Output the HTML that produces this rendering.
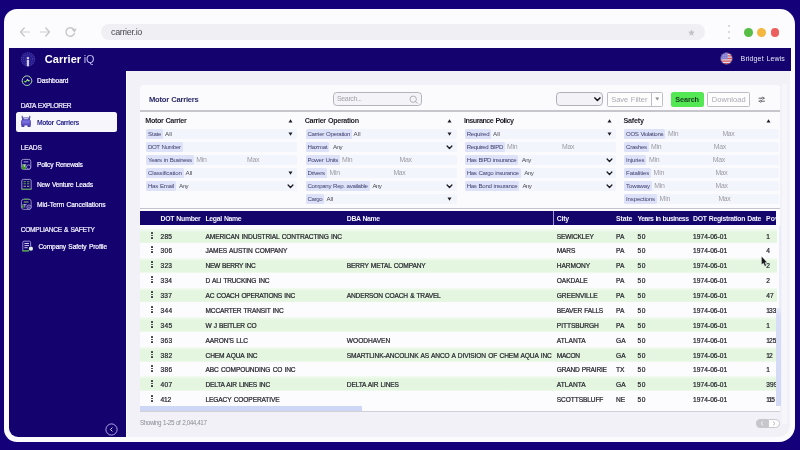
<!DOCTYPE html><html><head><meta charset="utf-8"><title>Carrier iQ</title><style>
html,body{margin:0;padding:0}
body{width:800px;height:450px;overflow:hidden;background:#14017a;position:relative;font-family:"Liberation Sans",sans-serif}
#r{position:absolute;left:0;top:0;width:800px;height:450px;overflow:hidden;will-change:transform}
#r div,#r svg,#r span{position:absolute;display:block}
#r span{white-space:nowrap;line-height:12px;height:12px;word-spacing:0.6px}
#r span.k{overflow:hidden}
#r span.b{-webkit-text-stroke:0.22px currentColor}
#r span i{font-style:normal;letter-spacing:-0.9px}
</style></head><body><div id="r">
<div style="left:4.2px;top:9px;width:791.2px;height:432.7px;background:#fcfcfe;border-radius:13px 15px 16px 13px;"></div>
<div style="left:100.5px;top:23.6px;width:604.5px;height:16.3px;background:#f0f0f4;border-radius:8px;"></div>
<div style="left:8.9px;top:47.5px;width:781.8px;height:23px;background:#14036e;"></div>
<div style="left:8.9px;top:47.5px;width:117.1px;height:389.3px;background:#14036e;border-radius:0 0 0 9px;"></div>
<div style="left:126px;top:70.5px;width:664.4px;height:366.3px;background:#f1f1f7;border-radius:0 0 12px 0;"></div>
<div style="left:781.8px;top:84px;width:5px;height:340px;background:#f6f6fb;"></div>
<div style="left:126px;top:70.5px;width:1.2px;height:366.3px;background:#fbfbfe;"></div>
<div style="left:140px;top:85px;width:640px;height:26px;background:#fbfbfe;border-radius:3px 3px 0 0;"></div>
<div style="left:140px;top:110.4px;width:640px;height:1.3px;background:#c6c6cc;"></div>
<div style="left:140px;top:111.5px;width:640px;height:96.5px;background:#fbfbfe;"></div>
<div style="left:140px;top:207.9px;width:640px;height:1.4px;background:#c4c4ca;"></div>
<div style="left:140px;top:209px;width:640px;height:202px;background:#fcfcfe;"></div>
<div style="left:140px;top:211px;width:636px;height:14px;background:#13056b;"></div>
<div style="left:553.4px;top:211px;width:1.1px;height:14px;background:#9d9ad4;"></div>
<div style="left:140px;top:411px;width:640px;height:1px;background:#d0d0d6;"></div>
<div style="left:744.4px;top:28.1px;width:8.8px;height:8.8px;background:#57bd45;border-radius:50%;"></div>
<div style="left:757.4px;top:28.1px;width:8.8px;height:8.8px;background:#f4b740;border-radius:50%;"></div>
<div style="left:770.5px;top:28.1px;width:8.8px;height:8.8px;background:#ec5f5c;border-radius:50%;"></div>
<div style="left:727.5px;top:25px;width:2px;height:2px;background:#cfcfd4;border-radius:50%;"></div>
<div style="left:727.5px;top:31px;width:2px;height:2px;background:#cfcfd4;border-radius:50%;"></div>
<div style="left:727.5px;top:36.5px;width:2px;height:2px;background:#cfcfd4;border-radius:50%;"></div>
<div style="left:16.2px;top:111.8px;width:100.8px;height:20.6px;background:#f6f6fc;border-radius:2.5px;"></div>
<div style="left:332.5px;top:92.2px;width:89.4px;height:13.8px;background:#f4f4f8;border:1.1px solid #b4b4bc;border-radius:3.8px;box-sizing:border-box;"></div>
<div style="left:556.1px;top:92px;width:46.8px;height:14.4px;background:#f3f3f7;border:1.2px solid #b0b0b8;border-radius:3.8px;box-sizing:border-box;"></div>
<div style="left:607.1px;top:92.1px;width:55.7px;height:14.5px;background:#fdfdfe;border:1px solid #bdbdc3;border-radius:1.5px;box-sizing:border-box;"></div>
<div style="left:651px;top:92px;width:1px;height:14.5px;background:#bdbdc3;"></div>
<div style="left:670.8px;top:92px;width:32.9px;height:14.9px;background:#53e753;border-radius:2.5px;"></div>
<div style="left:707px;top:92px;width:43px;height:14.5px;background:#fdfdfe;border:1px solid #bdbdc3;border-radius:1.5px;box-sizing:border-box;"></div>
<div style="left:146.3px;top:129.2px;width:150.7px;height:9.6px;background:#f3f5fc;border-radius:1.5px;"></div>
<div style="left:146.3px;top:129px;width:16.899999999999977px;height:10px;background:#dde2f8;border-radius:1.5px;"></div>
<div style="left:146.3px;top:142.2px;width:150.7px;height:9.6px;background:#f3f5fc;border-radius:1.5px;"></div>
<div style="left:146.3px;top:142px;width:36.29999999999998px;height:10px;background:#dde2f8;border-radius:1.5px;"></div>
<div style="left:146.3px;top:155.2px;width:150.7px;height:9.6px;background:#f3f5fc;border-radius:1.5px;"></div>
<div style="left:146.3px;top:155px;width:47.29999999999998px;height:10px;background:#dde2f8;border-radius:1.5px;"></div>
<div style="left:146.3px;top:168.2px;width:150.7px;height:9.6px;background:#f3f5fc;border-radius:1.5px;"></div>
<div style="left:146.3px;top:168px;width:37.29999999999998px;height:10px;background:#dde2f8;border-radius:1.5px;"></div>
<div style="left:146.3px;top:181.2px;width:150.7px;height:9.6px;background:#f3f5fc;border-radius:1.5px;"></div>
<div style="left:146.3px;top:181px;width:29.299999999999983px;height:10px;background:#dde2f8;border-radius:1.5px;"></div>
<div style="left:305.7px;top:129.2px;width:151.3px;height:9.6px;background:#f3f5fc;border-radius:1.5px;"></div>
<div style="left:305.7px;top:129px;width:46.30000000000001px;height:10px;background:#dde2f8;border-radius:1.5px;"></div>
<div style="left:305.7px;top:142.2px;width:151.3px;height:9.6px;background:#f3f5fc;border-radius:1.5px;"></div>
<div style="left:305.7px;top:142px;width:23.69999999999999px;height:10px;background:#dde2f8;border-radius:1.5px;"></div>
<div style="left:305.7px;top:155.2px;width:151.3px;height:9.6px;background:#f3f5fc;border-radius:1.5px;"></div>
<div style="left:305.7px;top:155px;width:34.30000000000001px;height:10px;background:#dde2f8;border-radius:1.5px;"></div>
<div style="left:305.7px;top:168.2px;width:151.3px;height:9.6px;background:#f3f5fc;border-radius:1.5px;"></div>
<div style="left:305.7px;top:168px;width:20.900000000000034px;height:10px;background:#dde2f8;border-radius:1.5px;"></div>
<div style="left:305.7px;top:181.2px;width:151.3px;height:9.6px;background:#f3f5fc;border-radius:1.5px;"></div>
<div style="left:305.7px;top:181px;width:63.900000000000034px;height:10px;background:#dde2f8;border-radius:1.5px;"></div>
<div style="left:305.7px;top:194.2px;width:151.3px;height:9.6px;background:#f3f5fc;border-radius:1.5px;"></div>
<div style="left:305.7px;top:194px;width:18.5px;height:10px;background:#dde2f8;border-radius:1.5px;"></div>
<div style="left:465.0px;top:129.2px;width:151.0px;height:9.6px;background:#f3f5fc;border-radius:1.5px;"></div>
<div style="left:465.0px;top:129px;width:26.30000000000001px;height:10px;background:#dde2f8;border-radius:1.5px;"></div>
<div style="left:465.0px;top:142.2px;width:151.0px;height:9.6px;background:#f3f5fc;border-radius:1.5px;"></div>
<div style="left:465.0px;top:142px;width:39.80000000000001px;height:10px;background:#dde2f8;border-radius:1.5px;"></div>
<div style="left:465.0px;top:155.2px;width:151.0px;height:9.6px;background:#f3f5fc;border-radius:1.5px;"></div>
<div style="left:465.0px;top:155px;width:53.200000000000045px;height:10px;background:#dde2f8;border-radius:1.5px;"></div>
<div style="left:465.0px;top:168.2px;width:151.0px;height:9.6px;background:#f3f5fc;border-radius:1.5px;"></div>
<div style="left:465.0px;top:168px;width:55.60000000000002px;height:10px;background:#dde2f8;border-radius:1.5px;"></div>
<div style="left:465.0px;top:181.2px;width:151.0px;height:9.6px;background:#f3f5fc;border-radius:1.5px;"></div>
<div style="left:465.0px;top:181px;width:54.200000000000045px;height:10px;background:#dde2f8;border-radius:1.5px;"></div>
<div style="left:624.4px;top:129.2px;width:154.60000000000002px;height:9.6px;background:#f3f5fc;border-radius:1.5px;"></div>
<div style="left:624.4px;top:129px;width:40.60000000000002px;height:10px;background:#dde2f8;border-radius:1.5px;"></div>
<div style="left:624.4px;top:142.2px;width:154.60000000000002px;height:9.6px;background:#f3f5fc;border-radius:1.5px;"></div>
<div style="left:624.4px;top:142px;width:24.399999999999977px;height:10px;background:#dde2f8;border-radius:1.5px;"></div>
<div style="left:624.4px;top:155.2px;width:154.60000000000002px;height:9.6px;background:#f3f5fc;border-radius:1.5px;"></div>
<div style="left:624.4px;top:155px;width:21.800000000000068px;height:10px;background:#dde2f8;border-radius:1.5px;"></div>
<div style="left:624.4px;top:168.2px;width:154.60000000000002px;height:9.6px;background:#f3f5fc;border-radius:1.5px;"></div>
<div style="left:624.4px;top:168px;width:26.600000000000023px;height:10px;background:#dde2f8;border-radius:1.5px;"></div>
<div style="left:624.4px;top:181.2px;width:154.60000000000002px;height:9.6px;background:#f3f5fc;border-radius:1.5px;"></div>
<div style="left:624.4px;top:181px;width:27.399999999999977px;height:10px;background:#dde2f8;border-radius:1.5px;"></div>
<div style="left:624.4px;top:194.2px;width:154.60000000000002px;height:9.6px;background:#f3f5fc;border-radius:1.5px;"></div>
<div style="left:624.4px;top:194px;width:32.39999999999998px;height:10px;background:#dde2f8;border-radius:1.5px;"></div>
<div style="left:140px;top:228.7px;width:637px;height:14.7px;background:linear-gradient(to bottom,#f5fbf4 0,#e4f6e0 3px,#e4f6e0 13.3px,#f1f9ef 100%);"></div>
<div style="left:151.3px;top:232.35px;width:1.8px;height:1.7px;background:#3c3c46;border-radius:30%;"></div>
<div style="left:151.3px;top:234.75px;width:1.8px;height:1.7px;background:#3c3c46;border-radius:30%;"></div>
<div style="left:151.3px;top:237.15px;width:1.8px;height:1.7px;background:#3c3c46;border-radius:30%;"></div>
<div style="left:151.3px;top:246.35px;width:1.8px;height:1.7px;background:#3c3c46;border-radius:30%;"></div>
<div style="left:151.3px;top:248.75px;width:1.8px;height:1.7px;background:#3c3c46;border-radius:30%;"></div>
<div style="left:151.3px;top:251.15px;width:1.8px;height:1.7px;background:#3c3c46;border-radius:30%;"></div>
<div style="left:140px;top:258.24px;width:637px;height:14.7px;background:linear-gradient(to bottom,#f5fbf4 0,#e4f6e0 3px,#e4f6e0 13.3px,#f1f9ef 100%);"></div>
<div style="left:151.3px;top:261.35px;width:1.8px;height:1.7px;background:#3c3c46;border-radius:30%;"></div>
<div style="left:151.3px;top:263.75px;width:1.8px;height:1.7px;background:#3c3c46;border-radius:30%;"></div>
<div style="left:151.3px;top:266.15px;width:1.8px;height:1.7px;background:#3c3c46;border-radius:30%;"></div>
<div style="left:151.3px;top:276.35px;width:1.8px;height:1.7px;background:#3c3c46;border-radius:30%;"></div>
<div style="left:151.3px;top:278.75px;width:1.8px;height:1.7px;background:#3c3c46;border-radius:30%;"></div>
<div style="left:151.3px;top:281.15px;width:1.8px;height:1.7px;background:#3c3c46;border-radius:30%;"></div>
<div style="left:140px;top:287.78px;width:637px;height:14.7px;background:linear-gradient(to bottom,#f5fbf4 0,#e4f6e0 3px,#e4f6e0 13.3px,#f1f9ef 100%);"></div>
<div style="left:151.3px;top:291.35px;width:1.8px;height:1.7px;background:#3c3c46;border-radius:30%;"></div>
<div style="left:151.3px;top:293.75px;width:1.8px;height:1.7px;background:#3c3c46;border-radius:30%;"></div>
<div style="left:151.3px;top:296.15px;width:1.8px;height:1.7px;background:#3c3c46;border-radius:30%;"></div>
<div style="left:151.3px;top:306.35px;width:1.8px;height:1.7px;background:#3c3c46;border-radius:30%;"></div>
<div style="left:151.3px;top:308.75px;width:1.8px;height:1.7px;background:#3c3c46;border-radius:30%;"></div>
<div style="left:151.3px;top:311.15px;width:1.8px;height:1.7px;background:#3c3c46;border-radius:30%;"></div>
<div style="left:140px;top:317.32px;width:637px;height:14.7px;background:linear-gradient(to bottom,#f5fbf4 0,#e4f6e0 3px,#e4f6e0 13.3px,#f1f9ef 100%);"></div>
<div style="left:151.3px;top:321.35px;width:1.8px;height:1.7px;background:#3c3c46;border-radius:30%;"></div>
<div style="left:151.3px;top:323.75px;width:1.8px;height:1.7px;background:#3c3c46;border-radius:30%;"></div>
<div style="left:151.3px;top:326.15px;width:1.8px;height:1.7px;background:#3c3c46;border-radius:30%;"></div>
<div style="left:151.3px;top:336.35px;width:1.8px;height:1.7px;background:#3c3c46;border-radius:30%;"></div>
<div style="left:151.3px;top:338.75px;width:1.8px;height:1.7px;background:#3c3c46;border-radius:30%;"></div>
<div style="left:151.3px;top:341.15px;width:1.8px;height:1.7px;background:#3c3c46;border-radius:30%;"></div>
<div style="left:140px;top:346.86px;width:637px;height:14.7px;background:linear-gradient(to bottom,#f5fbf4 0,#e4f6e0 3px,#e4f6e0 13.3px,#f1f9ef 100%);"></div>
<div style="left:151.3px;top:351.35px;width:1.8px;height:1.7px;background:#3c3c46;border-radius:30%;"></div>
<div style="left:151.3px;top:353.75px;width:1.8px;height:1.7px;background:#3c3c46;border-radius:30%;"></div>
<div style="left:151.3px;top:356.15px;width:1.8px;height:1.7px;background:#3c3c46;border-radius:30%;"></div>
<div style="left:151.3px;top:365.35px;width:1.8px;height:1.7px;background:#3c3c46;border-radius:30%;"></div>
<div style="left:151.3px;top:367.75px;width:1.8px;height:1.7px;background:#3c3c46;border-radius:30%;"></div>
<div style="left:151.3px;top:370.15px;width:1.8px;height:1.7px;background:#3c3c46;border-radius:30%;"></div>
<div style="left:140px;top:376.4px;width:637px;height:14.7px;background:linear-gradient(to bottom,#f5fbf4 0,#e4f6e0 3px,#e4f6e0 13.3px,#f1f9ef 100%);"></div>
<div style="left:151.3px;top:380.35px;width:1.8px;height:1.7px;background:#3c3c46;border-radius:30%;"></div>
<div style="left:151.3px;top:382.75px;width:1.8px;height:1.7px;background:#3c3c46;border-radius:30%;"></div>
<div style="left:151.3px;top:385.15px;width:1.8px;height:1.7px;background:#3c3c46;border-radius:30%;"></div>
<div style="left:151.3px;top:395.35px;width:1.8px;height:1.7px;background:#3c3c46;border-radius:30%;"></div>
<div style="left:151.3px;top:397.75px;width:1.8px;height:1.7px;background:#3c3c46;border-radius:30%;"></div>
<div style="left:151.3px;top:400.15px;width:1.8px;height:1.7px;background:#3c3c46;border-radius:30%;"></div>
<div style="left:779px;top:226px;width:2.4px;height:88px;background:#e9ecf9;"></div>
<div style="left:776.3px;top:308px;width:5px;height:98px;background:linear-gradient(to bottom,#e8ebf9 0,#d8def7 8px,#d2d9f6 100%);"></div>
<div style="left:140px;top:406.3px;width:222px;height:4.7px;background:#cfd7f6;"></div>
<div style="left:756.3px;top:419.3px;width:11.7px;height:8.4px;background:#c6c6cb;border-radius:4.2px 0 0 4.2px;"></div>
<div style="left:768px;top:419.3px;width:11.5px;height:8.4px;background:#fdfdfe;border-radius:0 4.2px 4.2px 0;border:0.6px solid #c9c9ce;box-sizing:border-box;"></div>
<svg style="left:287.8px;top:118.5px" width="5" height="4" viewBox="0 0 5 4"><path d="M2.5 0.3 L4.5 3.6 H0.5 Z" fill="#1c1c24"/></svg>
<svg style="left:287.8px;top:132.3px" width="5" height="4" viewBox="0 0 5 4"><path d="M0.5 0.4 H4.5 L2.5 3.7 Z" fill="#1c1c24"/></svg>
<svg style="left:287.8px;top:171.3px" width="5" height="4" viewBox="0 0 5 4"><path d="M0.5 0.4 H4.5 L2.5 3.7 Z" fill="#1c1c24"/></svg>
<svg style="left:286.8px;top:184.0px" width="7" height="5" viewBox="0 0 7 5"><path d="M1.1 1.0 L3.5 3.5 L5.9 1.0" fill="none" stroke="#1c1c24" stroke-width="1.3" stroke-linecap="round" stroke-linejoin="round"/></svg>
<svg style="left:447.2px;top:118.5px" width="5" height="4" viewBox="0 0 5 4"><path d="M2.5 0.3 L4.5 3.6 H0.5 Z" fill="#1c1c24"/></svg>
<svg style="left:447.2px;top:132.3px" width="5" height="4" viewBox="0 0 5 4"><path d="M0.5 0.4 H4.5 L2.5 3.7 Z" fill="#1c1c24"/></svg>
<svg style="left:446.2px;top:145.0px" width="7" height="5" viewBox="0 0 7 5"><path d="M1.1 1.0 L3.5 3.5 L5.9 1.0" fill="none" stroke="#1c1c24" stroke-width="1.3" stroke-linecap="round" stroke-linejoin="round"/></svg>
<svg style="left:446.2px;top:184.0px" width="7" height="5" viewBox="0 0 7 5"><path d="M1.1 1.0 L3.5 3.5 L5.9 1.0" fill="none" stroke="#1c1c24" stroke-width="1.3" stroke-linecap="round" stroke-linejoin="round"/></svg>
<svg style="left:447.2px;top:197.3px" width="5" height="4" viewBox="0 0 5 4"><path d="M0.5 0.4 H4.5 L2.5 3.7 Z" fill="#1c1c24"/></svg>
<svg style="left:606.5px;top:118.5px" width="5" height="4" viewBox="0 0 5 4"><path d="M2.5 0.3 L4.5 3.6 H0.5 Z" fill="#1c1c24"/></svg>
<svg style="left:606.5px;top:132.3px" width="5" height="4" viewBox="0 0 5 4"><path d="M0.5 0.4 H4.5 L2.5 3.7 Z" fill="#1c1c24"/></svg>
<svg style="left:605.5px;top:158.0px" width="7" height="5" viewBox="0 0 7 5"><path d="M1.1 1.0 L3.5 3.5 L5.9 1.0" fill="none" stroke="#1c1c24" stroke-width="1.3" stroke-linecap="round" stroke-linejoin="round"/></svg>
<svg style="left:605.5px;top:171.0px" width="7" height="5" viewBox="0 0 7 5"><path d="M1.1 1.0 L3.5 3.5 L5.9 1.0" fill="none" stroke="#1c1c24" stroke-width="1.3" stroke-linecap="round" stroke-linejoin="round"/></svg>
<svg style="left:605.5px;top:184.0px" width="7" height="5" viewBox="0 0 7 5"><path d="M1.1 1.0 L3.5 3.5 L5.9 1.0" fill="none" stroke="#1c1c24" stroke-width="1.3" stroke-linecap="round" stroke-linejoin="round"/></svg>
<svg style="left:766.0px;top:118.5px" width="5" height="4" viewBox="0 0 5 4"><path d="M2.5 0.3 L4.5 3.6 H0.5 Z" fill="#1c1c24"/></svg>
<svg style="left:760.2px;top:421.2px" width="4" height="5" viewBox="0 0 4 5"><path d="M3 0.6 L1 2.5 L3 4.4" fill="none" stroke="#f4f4f6" stroke-width="1"/></svg>
<svg style="left:771.8px;top:421.2px" width="4" height="5" viewBox="0 0 4 5"><path d="M1 0.6 L3 2.5 L1 4.4" fill="none" stroke="#b9b9bf" stroke-width="1"/></svg>
<!-- browser nav -->
<svg style="left:19px;top:26px" width="12" height="12" viewBox="0 0 12 12"><path d="M5.3 1.9 L1.6 6 L5.3 10.1" fill="none" stroke="#c4c4c8" stroke-width="1.4" stroke-linecap="round" stroke-linejoin="round"/><path d="M1.8 6 H10.6" stroke="#cfcfd3" stroke-width="1.1" stroke-linecap="round"/></svg>
<svg style="left:39px;top:26px" width="12" height="12" viewBox="0 0 12 12"><path d="M6.7 1.9 L10.4 6 L6.7 10.1" fill="none" stroke="#c4c4c8" stroke-width="1.4" stroke-linecap="round" stroke-linejoin="round"/><path d="M10.2 6 H1.4" stroke="#cfcfd3" stroke-width="1.1" stroke-linecap="round"/></svg>
<svg style="left:64px;top:26px" width="14" height="12" viewBox="0 0 14 12"><path d="M9.6 3.2 A4.3 4.3 0 1 0 10.4 7.4" fill="none" stroke="#c6c6ca" stroke-width="1.4" stroke-linecap="round"/><path d="M7.6 3.6 L12.6 2.4 L10.6 6.4 Z" fill="#c6c6ca"/></svg>
<svg style="left:688.3px;top:29.2px" width="7" height="7" viewBox="0 0 8 8"><path d="M4 0.5 L5.1 2.9 L7.7 3.2 L5.8 5 L6.3 7.6 L4 6.3 L1.7 7.6 L2.2 5 L0.3 3.2 L2.9 2.9 Z" fill="#c2c2c8"/></svg>
<!-- logo -->
<svg style="left:19.9px;top:50.7px" width="16" height="17" viewBox="0 0 16 17"><circle cx="8" cy="8.3" r="7" fill="#3f36ac" fill-opacity="0.42"/><circle cx="8" cy="8.3" r="6.6" fill="none" stroke="#6a61d2" stroke-opacity="0.55" stroke-width="1.2" stroke-dasharray="0.9 1.1"/><circle cx="8" cy="8.3" r="4.6" fill="none" stroke="#7168d8" stroke-opacity="0.5" stroke-width="1.1" stroke-dasharray="1 1.2"/><circle cx="8" cy="8.3" r="2.7" fill="none" stroke="#7168d8" stroke-opacity="0.45" stroke-width="1" stroke-dasharray="1 1"/><rect x="6.8" y="6.3" width="2.2" height="1.6" fill="#f2f0ff"/><rect x="6.8" y="8.7" width="2.2" height="6.6" fill="#d4ceff"/></svg>
<!-- dashboard -->
<svg style="left:20.5px;top:74.5px" width="12" height="12" viewBox="0 0 12 12"><circle cx="6" cy="5.7" r="4.8" fill="none" stroke="#b8b6e8" stroke-width="1"/><circle cx="6" cy="5.7" r="4.8" fill="none" stroke="#6fd14a" stroke-width="1" stroke-dasharray="2.5 3.5"/><path d="M3.2 6.1 L4.6 7 L6.4 4.6 L7.6 6 L8.8 5.6" fill="none" stroke="#7fe05a" stroke-width="1.1" stroke-linejoin="round"/><path d="M6 5 L6.9 4.6 L7.8 5.8" fill="none" stroke="#e8e8ff" stroke-width="0.9"/></svg>
<!-- motor carriers truck -->
<svg style="left:19.9px;top:115.3px" width="12" height="13" viewBox="0 0 12 13"><path d="M2.2 0.8 V3.2 M9.8 0.8 V3.2" stroke="#3f379c" stroke-width="1"/><path d="M2.8 2.4 H9.2 Q10 2.4 10 3.4 V5.4 H2 V3.4 Q2 2.4 2.8 2.4 Z" fill="#4a42ae"/><rect x="3.6" y="3.2" width="4.8" height="1.1" rx="0.4" fill="#e4e2fa"/><rect x="1" y="4.9" width="10" height="5.6" rx="1.3" fill="#665cd2"/><path d="M2.6 6.3 H9.4 M2.6 7.9 H9.4" stroke="#857de0" stroke-width="0.8"/><path d="M1.2 9.2 H10.8" stroke="#5048b8" stroke-width="0.8"/><rect x="1.3" y="10" width="3.3" height="2.1" rx="0.8" fill="#4a42ae"/><rect x="7.4" y="10" width="3.3" height="2.1" rx="0.8" fill="#4a42ae"/></svg>
<!-- policy renewals -->
<svg style="left:20px;top:158px" width="13" height="13" viewBox="0 0 13 13"><rect x="1.4" y="1.4" width="9.4" height="10" rx="2" fill="none" stroke="#9692c8" stroke-width="1"/><path d="M3.6 3.9 H8.4" stroke="#a7a2e4" stroke-width="1"/><rect x="2" y="6.6" width="4" height="4.6" fill="#43922f"/><path d="M2.6 6.8 H6.2 M4.4 6.8 V9" stroke="#d6d4f4" stroke-width="0.8"/><circle cx="8.6" cy="9" r="2.1" fill="#14036e" stroke="#9a95de" stroke-width="0.9"/></svg>
<!-- new venture leads -->
<svg style="left:20px;top:178px" width="13" height="13" viewBox="0 0 13 13"><path d="M1.8 11 V2.8 Q1.8 1.4 3.2 1.4 H9.8 Q11.2 1.4 11.2 2.8 V11" fill="none" stroke="#9692c8" stroke-width="1"/><path d="M3.6 3.7 H5.9 M7 3.7 H9.3 M3.6 5.8 H5.9 M7 5.8 H9.3" stroke="#6cb84e" stroke-width="0.9"/><path d="M3.6 8.3 H5.9 M7 8.3 H9.3" stroke="#b9c7a8" stroke-width="0.9"/><path d="M1.4 11.2 H11.6" stroke="#79c65a" stroke-width="1.1"/></svg>
<!-- mid-term cancellations -->
<svg style="left:20px;top:197.5px" width="13" height="13" viewBox="0 0 13 13"><rect x="1.4" y="1.2" width="9.8" height="10.2" rx="2.4" fill="none" stroke="#8f89b8" stroke-width="1"/><path d="M3.8 1.3 H8.8" stroke="#5aa844" stroke-width="1"/><path d="M3.8 4 H8.6" stroke="#8cc66e" stroke-width="1"/><rect x="2" y="6.6" width="1.6" height="3.6" fill="#43922f"/><path d="M3.4 6.6 H6.6 M4.8 6.6 V9.6" stroke="#cfcdf0" stroke-width="0.8"/><circle cx="9" cy="9.1" r="2.1" fill="#14036e" stroke="#aaa6e2" stroke-width="0.9"/><circle cx="9" cy="9.1" r="0.7" fill="#f0f0ff"/></svg>
<!-- company safety profile -->
<svg style="left:21px;top:239.5px" width="13" height="13" viewBox="0 0 13 13"><path d="M1.8 10.4 V2.4 Q1.8 1.2 3 1.2 H8.4 Q9.6 1.2 9.6 2.4 V6" fill="none" stroke="#a49fe2" stroke-width="0.9"/><path d="M3.4 3.5 H8 M3.4 5.6 H8 M3.4 7.7 H6.6" stroke="#e6e4fa" stroke-width="0.9"/><path d="M1.2 10.9 H8" stroke="#66d245" stroke-width="1.2"/><circle cx="9.9" cy="8.7" r="2.1" fill="#e2f4dc"/></svg>
<!-- collapse -->
<svg style="left:104.7px;top:422.6px" width="13" height="13" viewBox="0 0 13 13"><circle cx="6.5" cy="6.5" r="5.6" fill="none" stroke="#bdb6f6" stroke-width="0.9"/><path d="M7.1 4.9 L5.5 6.5 L7.1 8.1" fill="none" stroke="#dcd8ff" stroke-width="1" stroke-linecap="round" stroke-linejoin="round"/></svg>
<!-- flag avatar -->
<svg style="left:719.5px;top:52.4px" width="13" height="13" viewBox="0 0 13 13"><defs><clipPath id="fc"><circle cx="6.5" cy="6.5" r="6"/></clipPath></defs><g clip-path="url(#fc)"><rect width="13" height="13" fill="#dcdaf2"/><path d="M0 1.3 H13 M0 3.9 H13 M0 6.5 H13 M0 9.1 H13 M0 11.7 H13" stroke="#dc5450" stroke-width="1.3"/><rect x="0" y="0" width="7.6" height="7.1" fill="#8481d4"/><path d="M0 1.6 H7.6 M0 3.6 H7.6 M0 5.6 H7.6" stroke="#b3b0ea" stroke-width="0.7" stroke-dasharray="0.8 0.9"/></g><circle cx="6.5" cy="6.5" r="6" fill="none" stroke="#2a2080" stroke-width="0.7"/></svg>
<!-- magnifier -->
<svg style="left:409px;top:94.5px" width="10" height="10" viewBox="0 0 10 10"><circle cx="4.2" cy="4.2" r="3.2" fill="none" stroke="#a9a9b0" stroke-width="0.9"/><path d="M6.5 6.5 L8.4 8.3" stroke="#a9a9b0" stroke-width="0.9" stroke-linecap="round"/></svg>
<!-- select chevron -->
<svg style="left:593.9px;top:96.8px" width="7" height="5" viewBox="0 0 7 5"><path d="M0.9 0.9 L3.4 3.5 L5.9 0.9" fill="none" stroke="#16161c" stroke-width="1.5" stroke-linecap="round" stroke-linejoin="round"/></svg>
<!-- save filter caret -->
<svg style="left:655.2px;top:97.2px" width="5" height="4" viewBox="0 0 5 4"><path d="M0.4 0.4 H4.2 L2.3 3.4 Z" fill="#8b8b92"/></svg>
<!-- sliders icon -->
<svg style="left:758.2px;top:95.6px" width="8" height="8" viewBox="0 0 8 8"><path d="M0.5 2.2 H6.9 M0.5 5.2 H6.9" stroke="#55555d" stroke-width="0.9"/><circle cx="4.7" cy="2.2" r="1" fill="#f8f8fb" stroke="#55555d" stroke-width="0.8"/><circle cx="2.7" cy="5.2" r="1" fill="#f8f8fb" stroke="#55555d" stroke-width="0.8"/></svg>
<!-- mouse cursor -->
<svg style="left:759.5px;top:254.5px;z-index:9" width="10" height="14" viewBox="0 0 10 14"><path d="M1.6 1.4 V9.6 L3.4 8 L4.9 11.2 L6.2 10.6 L4.8 7.6 L7 7.4 Z" fill="#131318" stroke="#f4f4f4" stroke-opacity="0.5" stroke-width="0.45"/></svg>

<span style="left:111px;top:26px;font-size:9px;color:#4a4a52;letter-spacing:-0.352px;">carrier.io</span>
<span style="left:44.8px;top:53px;font-size:11px;color:#ffffff;letter-spacing:0.032px;font-weight:700;">Carrier</span>
<span style="left:83.8px;top:53px;font-size:10.8px;color:#c2bef2;letter-spacing:-0.106px;">iQ</span>
<span style="left:740.6px;top:53px;font-size:7px;color:#e4e4f4;letter-spacing:0.137px;">Bridget Lewis</span>
<span class="b" style="left:37px;top:75px;font-size:6.6px;color:#f5f5ff;letter-spacing:-0.096px;">Dashboard</span>
<span class="b" style="left:20.7px;top:100px;font-size:6.6px;color:#f0effb;letter-spacing:-0.307px;">DATA EXPLORER</span>
<span style="left:37px;top:117px;font-size:6.8px;color:#2d2b8f;letter-spacing:-0.403px;font-weight:700;">Motor Carriers</span>
<span class="b" style="left:20.7px;top:142px;font-size:6.6px;color:#f0effb;letter-spacing:-0.125px;">LEADS</span>
<span class="b" style="left:37px;top:159px;font-size:6.6px;color:#f5f5ff;letter-spacing:-0.232px;">Policy Renewals</span>
<span class="b" style="left:37px;top:179px;font-size:6.6px;color:#f5f5ff;letter-spacing:-0.163px;">New Venture Leads</span>
<span class="b" style="left:37px;top:199px;font-size:6.6px;color:#f5f5ff;letter-spacing:-0.045px;">Mid-Term Cancellations</span>
<span class="b" style="left:20.7px;top:224px;font-size:6.6px;color:#f0effb;letter-spacing:-0.238px;">COMPLIANCE &amp; SAFETY</span>
<span class="b" style="left:38.4px;top:241px;font-size:6.6px;color:#f5f5ff;letter-spacing:-0.085px;">Company Safety Profile</span>
<span style="left:149px;top:94px;font-size:7.6px;color:#2a2a66;letter-spacing:-0.246px;font-weight:700;">Motor Carriers</span>
<span style="left:337.1px;top:93px;font-size:7px;color:#a2a2aa;letter-spacing:-0.391px;">Search...</span>
<span style="left:611.2px;top:94px;font-size:7.5px;color:#a9a9b1;letter-spacing:-0.023px;">Save Filter</span>
<span style="left:675.2px;top:94px;font-size:7.3px;color:#143c1e;letter-spacing:-0.091px;font-weight:700;">Search</span>
<span style="left:711.8px;top:94px;font-size:7.5px;color:#a9a9b1;letter-spacing:0.080px;">Download</span>
<span style="left:145.3px;top:115px;font-size:7.2px;color:#1e1e26;letter-spacing:-0.395px;font-weight:700;">Motor Carrier</span>
<span style="left:148.0px;top:128px;font-size:6.1px;color:#40406e;letter-spacing:-0.187px;">State</span>
<span style="left:165px;top:128px;font-size:6.2px;color:#4a4a54;letter-spacing:0.036px;">All</span>
<span style="left:148.0px;top:141px;font-size:6.1px;color:#40406e;letter-spacing:-0.403px;">DOT Number</span>
<span style="left:148.0px;top:154px;font-size:6.1px;color:#40406e;letter-spacing:-0.337px;">Years in Business</span>
<span style="left:196.2px;top:154px;font-size:6.9px;color:#9b9ba3;letter-spacing:-0.203px;">Min</span>
<span style="left:247px;top:154px;font-size:6.9px;color:#9b9ba3;letter-spacing:-0.344px;">Max</span>
<span style="left:148.0px;top:167px;font-size:6.1px;color:#40406e;letter-spacing:-0.158px;">Classification</span>
<span style="left:185.5px;top:167px;font-size:6.2px;color:#4a4a54;letter-spacing:0.036px;">All</span>
<span style="left:148.0px;top:180px;font-size:6.1px;color:#40406e;letter-spacing:-0.297px;">Has Email</span>
<span style="left:179px;top:180px;font-size:6.2px;color:#4a4a54;letter-spacing:-0.557px;">Any</span>
<span style="left:304.7px;top:115px;font-size:7.2px;color:#1e1e26;letter-spacing:-0.360px;font-weight:700;">Carrier Operation</span>
<span style="left:307.4px;top:128px;font-size:6.1px;color:#40406e;letter-spacing:-0.293px;">Carrier Operation</span>
<span style="left:353.6px;top:128px;font-size:6.2px;color:#4a4a54;letter-spacing:0.036px;">All</span>
<span style="left:307.4px;top:141px;font-size:6.1px;color:#40406e;letter-spacing:-0.150px;">Hazmat</span>
<span style="left:333px;top:141px;font-size:6.2px;color:#4a4a54;letter-spacing:-0.557px;">Any</span>
<span style="left:307.4px;top:154px;font-size:6.1px;color:#40406e;letter-spacing:-0.250px;">Power Units</span>
<span style="left:342px;top:154px;font-size:6.9px;color:#9b9ba3;letter-spacing:-0.203px;">Min</span>
<span style="left:399.6px;top:154px;font-size:6.9px;color:#9b9ba3;letter-spacing:-0.344px;">Max</span>
<span style="left:307.4px;top:167px;font-size:6.1px;color:#40406e;letter-spacing:-0.285px;">Drivers</span>
<span style="left:329.5px;top:167px;font-size:6.9px;color:#9b9ba3;letter-spacing:-0.203px;">Min</span>
<span style="left:393.4px;top:167px;font-size:6.9px;color:#9b9ba3;letter-spacing:-0.344px;">Max</span>
<span style="left:307.4px;top:180px;font-size:6.1px;color:#40406e;letter-spacing:-0.332px;">Company Rep. available</span>
<span style="left:372.4px;top:180px;font-size:6.2px;color:#4a4a54;letter-spacing:-0.557px;">Any</span>
<span style="left:307.4px;top:193px;font-size:6.1px;color:#40406e;letter-spacing:-0.342px;">Cargo</span>
<span style="left:326.4px;top:193px;font-size:6.2px;color:#4a4a54;letter-spacing:0.036px;">All</span>
<span style="left:464px;top:115px;font-size:7.2px;color:#1e1e26;letter-spacing:-0.515px;font-weight:700;">Insurance Policy</span>
<span style="left:466.7px;top:128px;font-size:6.1px;color:#40406e;letter-spacing:-0.254px;">Required</span>
<span style="left:493px;top:128px;font-size:6.2px;color:#4a4a54;letter-spacing:0.036px;">All</span>
<span style="left:466.7px;top:141px;font-size:6.1px;color:#40406e;letter-spacing:-0.388px;">Required BIPD</span>
<span style="left:507px;top:141px;font-size:6.9px;color:#9b9ba3;letter-spacing:-0.203px;">Min</span>
<span style="left:562px;top:141px;font-size:6.9px;color:#9b9ba3;letter-spacing:-0.344px;">Max</span>
<span style="left:466.7px;top:154px;font-size:6.1px;color:#40406e;letter-spacing:-0.360px;">Has BIPD insurance</span>
<span style="left:521.8px;top:154px;font-size:6.2px;color:#4a4a54;letter-spacing:-0.557px;">Any</span>
<span style="left:466.7px;top:167px;font-size:6.1px;color:#40406e;letter-spacing:-0.340px;">Has Cargo insurance</span>
<span style="left:524.2px;top:167px;font-size:6.2px;color:#4a4a54;letter-spacing:-0.557px;">Any</span>
<span style="left:466.7px;top:180px;font-size:6.1px;color:#40406e;letter-spacing:-0.304px;">Has Bond insurance</span>
<span style="left:522.4px;top:180px;font-size:6.2px;color:#4a4a54;letter-spacing:-0.557px;">Any</span>
<span style="left:623.4px;top:115px;font-size:7.2px;color:#1e1e26;letter-spacing:-0.180px;font-weight:700;">Safety</span>
<span style="left:626.1px;top:128px;font-size:6.1px;color:#40406e;letter-spacing:-0.368px;">OOS Violations</span>
<span style="left:668px;top:128px;font-size:6.9px;color:#9b9ba3;letter-spacing:-0.203px;">Min</span>
<span style="left:722.4px;top:128px;font-size:6.9px;color:#9b9ba3;letter-spacing:-0.344px;">Max</span>
<span style="left:626.1px;top:141px;font-size:6.1px;color:#40406e;letter-spacing:-0.272px;">Crashes</span>
<span style="left:651px;top:141px;font-size:6.9px;color:#9b9ba3;letter-spacing:-0.203px;">Min</span>
<span style="left:713.8px;top:141px;font-size:6.9px;color:#9b9ba3;letter-spacing:-0.344px;">Max</span>
<span style="left:626.1px;top:154px;font-size:6.1px;color:#40406e;letter-spacing:-0.182px;">Injuries</span>
<span style="left:649px;top:154px;font-size:6.9px;color:#9b9ba3;letter-spacing:-0.203px;">Min</span>
<span style="left:712.8px;top:154px;font-size:6.9px;color:#9b9ba3;letter-spacing:-0.344px;">Max</span>
<span style="left:626.1px;top:167px;font-size:6.1px;color:#40406e;letter-spacing:-0.139px;">Fatalities</span>
<span style="left:653.6px;top:167px;font-size:6.9px;color:#9b9ba3;letter-spacing:-0.203px;">Min</span>
<span style="left:715.4px;top:167px;font-size:6.9px;color:#9b9ba3;letter-spacing:-0.344px;">Max</span>
<span style="left:626.1px;top:180px;font-size:6.1px;color:#40406e;letter-spacing:-0.180px;">Towaway</span>
<span style="left:654.2px;top:180px;font-size:6.9px;color:#9b9ba3;letter-spacing:-0.203px;">Min</span>
<span style="left:715.6px;top:180px;font-size:6.9px;color:#9b9ba3;letter-spacing:-0.344px;">Max</span>
<span style="left:626.1px;top:193px;font-size:6.1px;color:#40406e;letter-spacing:-0.184px;">Inspections</span>
<span style="left:659.6px;top:193px;font-size:6.9px;color:#9b9ba3;letter-spacing:-0.203px;">Min</span>
<span style="left:718.4px;top:193px;font-size:6.9px;color:#9b9ba3;letter-spacing:-0.344px;">Max</span>
<span style="left:160.5px;top:213px;font-size:6.9px;color:#f4f4ff;letter-spacing:-0.311px;font-weight:700;">DOT Number</span>
<span style="left:205.5px;top:213px;font-size:6.9px;color:#f4f4ff;letter-spacing:-0.348px;font-weight:700;">Legal Name</span>
<span style="left:346.8px;top:213px;font-size:6.9px;color:#f4f4ff;letter-spacing:-0.371px;font-weight:700;">DBA Name</span>
<span style="left:556.8px;top:213px;font-size:6.9px;color:#f4f4ff;letter-spacing:-0.258px;font-weight:700;">City</span>
<span style="left:616px;top:213px;font-size:6.9px;color:#f4f4ff;letter-spacing:-0.112px;font-weight:700;">State</span>
<span style="left:637.5px;top:213px;font-size:6.9px;color:#f4f4ff;letter-spacing:-0.495px;font-weight:700;">Years in business</span>
<span style="left:693px;top:213px;font-size:6.9px;color:#f4f4ff;letter-spacing:-0.320px;font-weight:700;">DOT Registration Date</span>
<span class="k" style="left:766px;top:213px;font-size:6.9px;color:#f4f4ff;font-weight:700;width:9.7px;letter-spacing:0.25px;">Pow</span>
<span class="b" style="left:160.5px;top:231px;font-size:6.6px;color:#26262e;letter-spacing:0.261px;">285</span>
<span class="b" style="left:205.5px;top:231px;font-size:6.6px;color:#26262e;letter-spacing:-0.122px;">AMERICAN INDUSTRIAL CONTRACTING INC</span>
<span class="b" style="left:556.8px;top:231px;font-size:6.6px;color:#26262e;letter-spacing:-0.187px;">SEWICKLEY</span>
<span class="b" style="left:616px;top:231px;font-size:6.6px;color:#26262e;letter-spacing:-0.006px;">PA</span>
<span class="b" style="left:637.5px;top:231px;font-size:6.6px;color:#26262e;letter-spacing:0.578px;">50</span>
<span class="b" style="left:693px;top:231px;font-size:6.6px;color:#26262e;letter-spacing:0.057px;">1974-06-01</span>
<span class="k b" style="left:766.3px;top:231px;font-size:6.6px;color:#26262e;width:9.5px;"><i>1</i></span>
<span class="b" style="left:160.5px;top:245px;font-size:6.6px;color:#26262e;letter-spacing:0.328px;">306</span>
<span class="b" style="left:205.5px;top:245px;font-size:6.6px;color:#26262e;letter-spacing:-0.086px;">JAMES AUSTIN COMPANY</span>
<span class="b" style="left:556.8px;top:245px;font-size:6.6px;color:#26262e;letter-spacing:-0.191px;">MARS</span>
<span class="b" style="left:616px;top:245px;font-size:6.6px;color:#26262e;letter-spacing:-0.006px;">PA</span>
<span class="b" style="left:637.5px;top:245px;font-size:6.6px;color:#26262e;letter-spacing:0.578px;">50</span>
<span class="b" style="left:693px;top:245px;font-size:6.6px;color:#26262e;letter-spacing:0.057px;">1974-06-01</span>
<span class="k b" style="left:766.3px;top:245px;font-size:6.6px;color:#26262e;width:9.5px;">4</span>
<span class="b" style="left:160.5px;top:260px;font-size:6.6px;color:#26262e;letter-spacing:0.261px;">323</span>
<span class="b" style="left:205.5px;top:260px;font-size:6.6px;color:#26262e;letter-spacing:-0.315px;">NEW BERRY INC</span>
<span class="b" style="left:346.8px;top:260px;font-size:6.6px;color:#26262e;letter-spacing:-0.140px;">BERRY METAL COMPANY</span>
<span class="b" style="left:556.8px;top:260px;font-size:6.6px;color:#26262e;letter-spacing:-0.058px;">HARMONY</span>
<span class="b" style="left:616px;top:260px;font-size:6.6px;color:#26262e;letter-spacing:-0.006px;">PA</span>
<span class="b" style="left:637.5px;top:260px;font-size:6.6px;color:#26262e;letter-spacing:0.578px;">50</span>
<span class="b" style="left:693px;top:260px;font-size:6.6px;color:#26262e;letter-spacing:0.057px;">1974-06-01</span>
<span class="k b" style="left:766.3px;top:260px;font-size:6.6px;color:#26262e;width:9.5px;">2</span>
<span class="b" style="left:160.5px;top:275px;font-size:6.6px;color:#26262e;letter-spacing:0.261px;">334</span>
<span class="b" style="left:205.5px;top:275px;font-size:6.6px;color:#26262e;letter-spacing:-0.193px;">D ALI TRUCKING INC</span>
<span class="b" style="left:556.8px;top:275px;font-size:6.6px;color:#26262e;letter-spacing:-0.051px;">OAKDALE</span>
<span class="b" style="left:616px;top:275px;font-size:6.6px;color:#26262e;letter-spacing:-0.006px;">PA</span>
<span class="b" style="left:637.5px;top:275px;font-size:6.6px;color:#26262e;letter-spacing:0.578px;">50</span>
<span class="b" style="left:693px;top:275px;font-size:6.6px;color:#26262e;letter-spacing:0.057px;">1974-06-01</span>
<span class="k b" style="left:766.3px;top:275px;font-size:6.6px;color:#26262e;width:9.5px;">2</span>
<span class="b" style="left:160.5px;top:290px;font-size:6.6px;color:#26262e;letter-spacing:0.195px;">337</span>
<span class="b" style="left:205.5px;top:290px;font-size:6.6px;color:#26262e;letter-spacing:-0.212px;">AC COACH OPERATIONS INC</span>
<span class="b" style="left:346.8px;top:290px;font-size:6.6px;color:#26262e;letter-spacing:-0.179px;">ANDERSON COACH &amp; TRAVEL</span>
<span class="b" style="left:556.8px;top:290px;font-size:6.6px;color:#26262e;letter-spacing:-0.062px;">GREENVILLE</span>
<span class="b" style="left:616px;top:290px;font-size:6.6px;color:#26262e;letter-spacing:-0.006px;">PA</span>
<span class="b" style="left:637.5px;top:290px;font-size:6.6px;color:#26262e;letter-spacing:0.578px;">50</span>
<span class="b" style="left:693px;top:290px;font-size:6.6px;color:#26262e;letter-spacing:0.057px;">1974-06-01</span>
<span class="k b" style="left:766.3px;top:290px;font-size:6.6px;color:#26262e;width:9.5px;">47</span>
<span class="b" style="left:160.5px;top:305px;font-size:6.6px;color:#26262e;letter-spacing:0.328px;">344</span>
<span class="b" style="left:205.5px;top:305px;font-size:6.6px;color:#26262e;letter-spacing:-0.172px;">MCCARTER TRANSIT INC</span>
<span class="b" style="left:556.8px;top:305px;font-size:6.6px;color:#26262e;letter-spacing:-0.183px;">BEAVER FALLS</span>
<span class="b" style="left:616px;top:305px;font-size:6.6px;color:#26262e;letter-spacing:-0.006px;">PA</span>
<span class="b" style="left:637.5px;top:305px;font-size:6.6px;color:#26262e;letter-spacing:0.578px;">50</span>
<span class="b" style="left:693px;top:305px;font-size:6.6px;color:#26262e;letter-spacing:0.057px;">1974-06-01</span>
<span class="k b" style="left:766.3px;top:305px;font-size:6.6px;color:#26262e;width:9.5px;"><i>1</i>33</span>
<span class="b" style="left:160.5px;top:320px;font-size:6.6px;color:#26262e;letter-spacing:0.328px;">345</span>
<span class="b" style="left:205.5px;top:320px;font-size:6.6px;color:#26262e;letter-spacing:-0.229px;">W J BEITLER CO</span>
<span class="b" style="left:556.8px;top:320px;font-size:6.6px;color:#26262e;letter-spacing:-0.050px;">PITTSBURGH</span>
<span class="b" style="left:616px;top:320px;font-size:6.6px;color:#26262e;letter-spacing:-0.006px;">PA</span>
<span class="b" style="left:637.5px;top:320px;font-size:6.6px;color:#26262e;letter-spacing:0.578px;">50</span>
<span class="b" style="left:693px;top:320px;font-size:6.6px;color:#26262e;letter-spacing:0.057px;">1974-06-01</span>
<span class="k b" style="left:766.3px;top:320px;font-size:6.6px;color:#26262e;width:9.5px;"><i>1</i></span>
<span class="b" style="left:160.5px;top:335px;font-size:6.6px;color:#26262e;letter-spacing:0.328px;">363</span>
<span class="b" style="left:205.5px;top:335px;font-size:6.6px;color:#26262e;letter-spacing:-0.104px;">AARON&#x27;S LLC</span>
<span class="b" style="left:346.8px;top:335px;font-size:6.6px;color:#26262e;letter-spacing:0.002px;">WOODHAVEN</span>
<span class="b" style="left:556.8px;top:335px;font-size:6.6px;color:#26262e;letter-spacing:0.042px;">ATLANTA</span>
<span class="b" style="left:616px;top:335px;font-size:6.6px;color:#26262e;letter-spacing:0.034px;">GA</span>
<span class="b" style="left:637.5px;top:335px;font-size:6.6px;color:#26262e;letter-spacing:0.578px;">50</span>
<span class="b" style="left:693px;top:335px;font-size:6.6px;color:#26262e;letter-spacing:0.057px;">1974-06-01</span>
<span class="k b" style="left:766.3px;top:335px;font-size:6.6px;color:#26262e;width:9.5px;"><i>1</i>25</span>
<span class="b" style="left:160.5px;top:350px;font-size:6.6px;color:#26262e;letter-spacing:0.328px;">382</span>
<span class="b" style="left:205.5px;top:350px;font-size:6.6px;color:#26262e;letter-spacing:-0.123px;">CHEM AQUA INC</span>
<span class="b" style="left:346.8px;top:350px;font-size:6.6px;color:#26262e;letter-spacing:-0.104px;">SMARTLINK-ANCOLINK AS ANCO A DIVISION OF CHEM AQUA INC</span>
<span class="b" style="left:556.8px;top:350px;font-size:6.6px;color:#26262e;letter-spacing:-0.309px;">MACON</span>
<span class="b" style="left:616px;top:350px;font-size:6.6px;color:#26262e;letter-spacing:0.034px;">GA</span>
<span class="b" style="left:637.5px;top:350px;font-size:6.6px;color:#26262e;letter-spacing:0.578px;">50</span>
<span class="b" style="left:693px;top:350px;font-size:6.6px;color:#26262e;letter-spacing:0.057px;">1974-06-01</span>
<span class="k b" style="left:766.3px;top:350px;font-size:6.6px;color:#26262e;width:9.5px;"><i>1</i>2</span>
<span class="b" style="left:160.5px;top:364px;font-size:6.6px;color:#26262e;letter-spacing:0.328px;">386</span>
<span class="b" style="left:205.5px;top:364px;font-size:6.6px;color:#26262e;letter-spacing:-0.138px;">ABC COMPOUNDING CO INC</span>
<span class="b" style="left:556.8px;top:364px;font-size:6.6px;color:#26262e;letter-spacing:-0.203px;">GRAND PRAIRIE</span>
<span class="b" style="left:616px;top:364px;font-size:6.6px;color:#26262e;letter-spacing:-0.119px;">TX</span>
<span class="b" style="left:637.5px;top:364px;font-size:6.6px;color:#26262e;letter-spacing:0.578px;">50</span>
<span class="b" style="left:693px;top:364px;font-size:6.6px;color:#26262e;letter-spacing:0.057px;">1974-06-01</span>
<span class="k b" style="left:766.3px;top:364px;font-size:6.6px;color:#26262e;width:9.5px;"><i>1</i></span>
<span class="b" style="left:160.5px;top:379px;font-size:6.6px;color:#26262e;letter-spacing:0.328px;">407</span>
<span class="b" style="left:205.5px;top:379px;font-size:6.6px;color:#26262e;letter-spacing:-0.197px;">DELTA AIR LINES INC</span>
<span class="b" style="left:346.8px;top:379px;font-size:6.6px;color:#26262e;letter-spacing:-0.165px;">DELTA AIR LINES</span>
<span class="b" style="left:556.8px;top:379px;font-size:6.6px;color:#26262e;letter-spacing:0.042px;">ATLANTA</span>
<span class="b" style="left:616px;top:379px;font-size:6.6px;color:#26262e;letter-spacing:0.034px;">GA</span>
<span class="b" style="left:637.5px;top:379px;font-size:6.6px;color:#26262e;letter-spacing:0.578px;">50</span>
<span class="b" style="left:693px;top:379px;font-size:6.6px;color:#26262e;letter-spacing:0.057px;">1974-06-01</span>
<span class="k b" style="left:766.3px;top:379px;font-size:6.6px;color:#26262e;width:9.5px;">399</span>
<span class="b" style="left:160.5px;top:394px;font-size:6.6px;color:#26262e;letter-spacing:-0.205px;">412</span>
<span class="b" style="left:205.5px;top:394px;font-size:6.6px;color:#26262e;letter-spacing:-0.123px;">LEGACY COOPERATIVE</span>
<span class="b" style="left:556.8px;top:394px;font-size:6.6px;color:#26262e;letter-spacing:-0.102px;">SCOTTSBLUFF</span>
<span class="b" style="left:616px;top:394px;font-size:6.6px;color:#26262e;letter-spacing:-0.086px;">NE</span>
<span class="b" style="left:637.5px;top:394px;font-size:6.6px;color:#26262e;letter-spacing:0.578px;">50</span>
<span class="b" style="left:693px;top:394px;font-size:6.6px;color:#26262e;letter-spacing:0.057px;">1974-06-01</span>
<span class="k b" style="left:766.3px;top:394px;font-size:6.6px;color:#26262e;width:9.5px;"><i>1</i><i>1</i>5</span>
<span style="left:140px;top:417px;font-size:6.3px;color:#8d8d97;letter-spacing:-0.423px;">Showing 1-25 of 2,044,417</span>
</div></body></html>
